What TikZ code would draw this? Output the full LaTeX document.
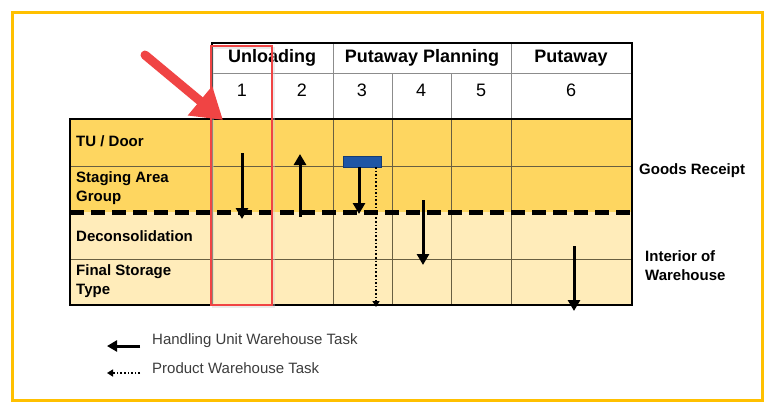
\documentclass[tikz,border=0pt]{standalone}
\usepackage{fontspec}
\setmainfont{Liberation Sans}
\usetikzlibrary{arrows.meta}
\definecolor{frameorange}{RGB}{255,192,0}
\definecolor{darkyel}{RGB}{254,214,96}
\definecolor{lightyel}{RGB}{255,236,186}
\definecolor{gridln}{RGB}{105,95,65}
\definecolor{hdrln}{RGB}{140,140,140}
\definecolor{boxblue}{RGB}{30,86,165}
\definecolor{redmark}{RGB}{240,68,68}
\definecolor{legtext}{RGB}{60,60,60}
\tikzset{
  hdr/.style={font=\fontsize{18}{20}\selectfont\bfseries, inner sep=0pt},
  num/.style={font=\fontsize{18}{20}\selectfont, inner sep=0pt},
  rowlbl/.style={font=\fontsize{15}{19}\selectfont\bfseries, inner sep=0pt, anchor=west, align=left},
  sidelbl/.style={font=\fontsize{15}{19}\selectfont\bfseries, inner sep=0pt, anchor=west, align=left},
  legtxt/.style={font=\fontsize{15}{18}\selectfont, text=legtext, inner sep=0pt, anchor=west},
  thinln/.style={draw=gridln, line width=1pt},
  hdrthin/.style={draw=hdrln, line width=1pt},
  thickln/.style={draw=black, line width=2pt},
  hutask/.style={line width=3pt, -{Triangle[length=11pt,width=12pt]}},
  prtask/.style={line width=1.6pt, dotted, -{Triangle[length=6pt,width=7pt]}},
  bluebox/.style={draw=boxblue!70!black, fill=boxblue, line width=0.8pt, minimum width=38pt, minimum height=11pt, inner sep=0pt},
}
\begin{document}
\begin{tikzpicture}[x=1pt,y=-1pt]
\useasboundingbox (0,0) rectangle (768,407);
% outer frame
\draw[frameorange, line width=3pt] (12,12) rectangle (762,400);
% fills
\fill[darkyel] (70,119) rectangle (632,212);
\fill[lightyel] (70,212) rectangle (632,305);
% thin grid lines
\draw[thinln] (70,166) -- (632,166);
\draw[thinln] (70,259) -- (632,259);
\draw[thinln] (212,119) -- (212,305);
\foreach \x in {272,333,392,451,511} \draw[thinln] (\x,119) -- (\x,305);
\draw[hdrthin] (212,73) -- (632,73);
\foreach \x in {272,392,451} \draw[hdrthin] (\x,73) -- (\x,119);
\foreach \x in {333,511} \draw[hdrthin] (\x,43) -- (\x,119);
% thick outline
\draw[thickln] (212,119) -- (212,43) -- (632,43) -- (632,305) -- (70,305) -- (70,119) -- cycle;
\draw[thickln] (212,119) -- (632,119);
% dashed boundary
\draw[line width=5pt, dash pattern=on 14pt off 7pt] (70,212) -- (632,212);
% header texts
\node[hdr] (hUnl) at (272,58) {Unloading};
\node[hdr] (hPP) at (422,58) {Putaway Planning};
\node[hdr] (hPut) at (571,58) {Putaway};
\node[num] (n1) at (242,90) {1};
\node[num] (n2) at (302,90) {2};
\node[num] (n3) at (362,90) {3};
\node[num] (n4) at (421,90) {4};
\node[num] (n5) at (481,90) {5};
\node[num] (n6) at (571,90) {6};
% row labels
\node[rowlbl] (rTU) at (76,141) {TU / Door};
\node[rowlbl] (rSA) at (76,188) {Staging Area\\Group};
\node[rowlbl] (rDC) at (76,236) {Deconsolidation};
\node[rowlbl] (rFS) at (76,281) {Final Storage\\Type};
% side labels
\node[sidelbl] (sGR) at (639,171) {Goods Receipt};
\node[sidelbl] (sIW) at (645,266) {Interior of\\Warehouse};
% task coordinates
\coordinate (a1s) at (242,153); \coordinate (a1e) at (242,219);
\coordinate (a2s) at (300,217); \coordinate (a2e) at (300,154);
\node[bluebox] (blue) at (362,161.5) {};
\coordinate (a3s) at (359,167); \coordinate (a3e) at (359,214);
\coordinate (d3s) at (376,167); \coordinate (d3e) at (376,307);
\coordinate (a4s) at (423,200); \coordinate (a4e) at (423,265);
\coordinate (a6s) at (574,246); \coordinate (a6e) at (574,311);
\draw[hutask] (a1s) -- (a1e);
\draw[hutask] (a2s) -- (a2e);
\draw[hutask] (a3s) -- (a3e);
\draw[prtask] (d3s) -- (d3e);
\draw[hutask] (a4s) -- (a4e);
\draw[hutask] (a6s) -- (a6e);
% red highlight
\draw[black!20, line width=2.5pt, opacity=0.4] (213,48) rectangle (274,307);
\draw[redmark, line width=2.5pt] (211,46) rectangle (272,305);
\coordinate (rs) at (145,55);
\coordinate (re) at (223,120);
\draw[redmark, line width=9pt, line cap=round, -{Triangle[length=30pt,width=36pt]}] (rs) -- (re);
% legend
\coordinate (l1s) at (140,346); \coordinate (l1e) at (107,346);
\coordinate (l2s) at (140,373); \coordinate (l2e) at (107,373);
\draw[line width=3pt, -{Triangle[length=10pt,width=11pt]}] (l1s) -- (l1e);
\draw[prtask] (l2s) -- (l2e);
\node[legtxt] (lg1) at (152,341) {Handling Unit Warehouse Task};
\node[legtxt] (lg2) at (152,368) {Product Warehouse Task};
\end{tikzpicture}
\end{document}
